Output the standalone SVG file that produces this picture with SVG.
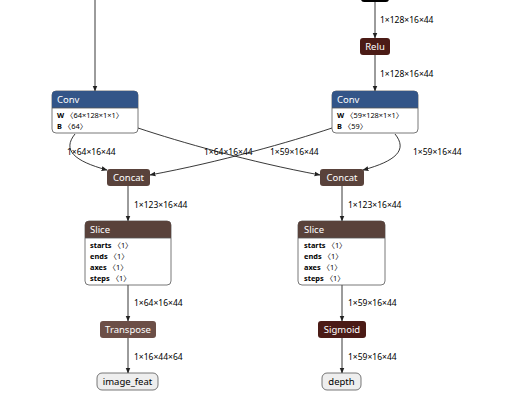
<svg xmlns="http://www.w3.org/2000/svg" width="512" height="404" viewBox="0 0 512 404">
<style>
text{font-family:"Noto Sans","Noto Sans CJK SC","DejaVu Sans",sans-serif}
.t{font-size:9.5px;fill:#fff}
.el{font-size:8.5px;fill:#000}
.a{font-size:7.4px;fill:#000}
.ab{font-weight:bold}
.e{fill:none;stroke:#222;stroke-width:0.9}
.box{fill:#fff;stroke:#555;stroke-width:0.8}
.io{fill:#eee;stroke:#555;stroke-width:0.8}
.io-t{font-size:9.5px;fill:#000}
</style>
<defs>
<marker id="ar" viewBox="0 0 10 10" refX="9" refY="5" markerWidth="6" markerHeight="6" orient="auto" markerUnits="userSpaceOnUse">
<path d="M0,1 L10,5 L0,9 Z" fill="#222"/>
</marker>
</defs>
<rect width="512" height="404" fill="#fff"/>
<g id="edges">
<path class="e" d="M95,0 L95,91" marker-end="url(#ar)"/>
<path class="e" d="M375,2 L375,38" marker-end="url(#ar)"/>
<path class="e" d="M375,55 L375,91" marker-end="url(#ar)"/>
<path class="e" d="M75,134 C62,150 74,161 107,170" marker-end="url(#ar)"/>
<path class="e" d="M138,128 C180,142 250,162 320,175" marker-end="url(#ar)"/>
<path class="e" d="M332,128 C290,142 220,162 150,175" marker-end="url(#ar)"/>
<path class="e" d="M395,134 C408,150 396,161 363,170" marker-end="url(#ar)"/>
<path class="e" d="M128,186 L128,221" marker-end="url(#ar)"/>
<path class="e" d="M342,186 L342,221" marker-end="url(#ar)"/>
<path class="e" d="M128,285 L128,321" marker-end="url(#ar)"/>
<path class="e" d="M342,285 L342,321" marker-end="url(#ar)"/>
<path class="e" d="M128,338 L128,373" marker-end="url(#ar)"/>
<path class="e" d="M342,338 L342,373" marker-end="url(#ar)"/>
<text class="el" x="380" y="23">1×128×16×44</text>
<text class="el" x="380" y="77">1×128×16×44</text>
<text class="el" x="67" y="155">1×64×16×44</text>
<text class="el" x="204" y="155">1×64×16×44</text>
<text class="el" x="270" y="155">1×59×16×44</text>
<text class="el" x="413" y="155">1×59×16×44</text>
<text class="el" x="134" y="208">1×123×16×44</text>
<text class="el" x="348" y="208">1×123×16×44</text>
<text class="el" x="134" y="306">1×64×16×44</text>
<text class="el" x="348" y="306">1×59×16×44</text>
<text class="el" x="134" y="360">1×16×44×64</text>
<text class="el" x="348" y="360">1×59×16×44</text>
</g>
<g id="node-top">
<rect x="361" y="-15" width="28" height="17" rx="3" fill="#000"/>
</g>
<g id="node-relu">
<rect x="360" y="38" width="30" height="17" rx="3" fill="#4b1b16"/>
<text class="t" x="375" y="50" text-anchor="middle">Relu</text>
</g>
<g id="node-conv-left">
<rect class="box" x="52" y="91" width="86" height="42" rx="4"/>
<path d="M52,108 V95 a4,4 0 0 1 4,-4 H134 a4,4 0 0 1 4,4 V108 Z" fill="#335588"/>
<line x1="52" y1="108" x2="138" y2="108" stroke="#555" stroke-width="0.8"/>
<text class="t" x="57" y="103">Conv</text>
<text class="a" x="57" y="118"><tspan class="ab">W</tspan> 〈64×128×1×1〉</text>
<text class="a" x="57" y="129"><tspan class="ab">B</tspan> 〈64〉</text>
</g>
<g id="node-conv-right">
<rect class="box" x="332" y="91" width="86" height="42" rx="4"/>
<path d="M332,108 V95 a4,4 0 0 1 4,-4 H414 a4,4 0 0 1 4,4 V108 Z" fill="#335588"/>
<line x1="332" y1="108" x2="418" y2="108" stroke="#555" stroke-width="0.8"/>
<text class="t" x="337" y="103">Conv</text>
<text class="a" x="337" y="118"><tspan class="ab">W</tspan> 〈59×128×1×1〉</text>
<text class="a" x="337" y="129"><tspan class="ab">B</tspan> 〈59〉</text>
</g>
<g id="node-concat-left">
<rect x="107" y="169" width="43" height="17" rx="3" fill="#59423b"/>
<text class="t" x="128.5" y="181" text-anchor="middle">Concat</text>
</g>
<g id="node-concat-right">
<rect x="320" y="169" width="44" height="17" rx="3" fill="#59423b"/>
<text class="t" x="342" y="181" text-anchor="middle">Concat</text>
</g>
<g id="node-slice-left">
<rect class="box" x="85" y="221" width="86" height="64" rx="4"/>
<path d="M85,238 V225 a4,4 0 0 1 4,-4 H167 a4,4 0 0 1 4,4 V238 Z" fill="#59423b"/>
<line x1="85" y1="238" x2="171" y2="238" stroke="#555" stroke-width="0.8"/>
<text class="t" x="90" y="233">Slice</text>
<text class="a" x="90" y="248"><tspan class="ab">starts</tspan> 〈1〉</text>
<text class="a" x="90" y="259"><tspan class="ab">ends</tspan> 〈1〉</text>
<text class="a" x="90" y="270"><tspan class="ab">axes</tspan> 〈1〉</text>
<text class="a" x="90" y="281"><tspan class="ab">steps</tspan> 〈1〉</text>
</g>
<g id="node-slice-right">
<rect class="box" x="298" y="221" width="87" height="64" rx="4"/>
<path d="M298,238 V225 a4,4 0 0 1 4,-4 H381 a4,4 0 0 1 4,4 V238 Z" fill="#59423b"/>
<line x1="298" y1="238" x2="385" y2="238" stroke="#555" stroke-width="0.8"/>
<text class="t" x="304" y="233">Slice</text>
<text class="a" x="304" y="248"><tspan class="ab">starts</tspan> 〈1〉</text>
<text class="a" x="304" y="259"><tspan class="ab">ends</tspan> 〈1〉</text>
<text class="a" x="304" y="270"><tspan class="ab">axes</tspan> 〈1〉</text>
<text class="a" x="304" y="281"><tspan class="ab">steps</tspan> 〈1〉</text>
</g>
<g id="node-transpose">
<rect x="100" y="321" width="56" height="17" rx="3" fill="#6c4f47"/>
<text class="t" x="128" y="333" text-anchor="middle">Transpose</text>
</g>
<g id="node-sigmoid">
<rect x="318" y="321" width="48" height="17" rx="3" fill="#4b1b16"/>
<text class="t" x="342" y="333" text-anchor="middle">Sigmoid</text>
</g>
<g id="node-image-feat">
<rect class="io" x="97" y="373" width="61" height="17" rx="5"/>
<text class="io-t" x="127.5" y="385" text-anchor="middle">image_feat</text>
</g>
<g id="node-depth">
<rect class="io" x="322" y="373" width="39" height="17" rx="5"/>
<text class="io-t" x="341.5" y="385" text-anchor="middle">depth</text>
</g>
</svg>
